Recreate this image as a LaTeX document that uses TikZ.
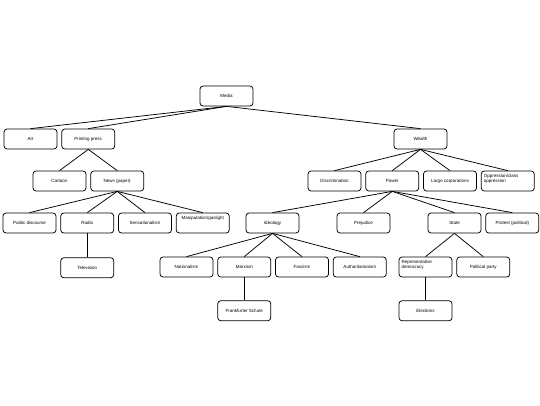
\documentclass[tikz,border=0pt]{standalone}
\usepackage{fontspec}
\setmainfont{Liberation Sans}
\usetikzlibrary{positioning}
\tikzset{x=1pt, y=-1pt, node distance=4pt,
concept/.style={draw, line width=0.75pt, rounded corners=3pt, fill=white,
  minimum width=53pt, minimum height=20pt, inner sep=0pt,
  font=\fontsize{4.5}{5.2}\selectfont},
link/.style={line width=0.75pt},
}
\newcommand{\toptext}[1]{\parbox[c][13pt][t]{48pt}{#1}}

\begin{document}
\begin{tikzpicture}
\useasboundingbox (0,0) rectangle (540,405);
    \node[concept] (media) at (226.5,96) {Media};
    \node[concept] (art) at (30.5,139) {Art};
    \node[concept, right=of art] (printing) {Printing press};
    \node[concept] (wealth) at (420.5,139) {Wealth};
    \node[concept] (cartoon) at (59.5,181) {Cartoon};
    \node[concept, right=of cartoon] (news) {News (paper)};
    \node[concept] (discrimination) at (334.5,181) {Discrimination};
    \node[concept, right=of discrimination] (power) {Power};
    \node[concept, right=of power] (corporations) {Large corporations};
    \node[concept, right=of corporations] (oppression) {\toptext{\raggedright Oppression/class\\oppression}};
    \node[concept] (public) at (29.5,223) {Public discourse};
    \node[concept, right=of public] (radio) {Radio};
    \node[concept, right=of radio] (sensationalism) {Sensationalism};
    \node[concept, right=of sensationalism] (manipulation) {\toptext{\centering Manipulation/gaslight}};
    \node[concept] (ideology) at (272.5,223) {Ideology};
    \node[concept] (prejudice) at (363.5,223) {Prejudice};
    \node[concept] (state) at (454.5,223) {State};
    \node[concept, right=of state] (protest) {Protest (political)};
    \node[concept, below=24pt of radio] (television) {Television};
    \node[concept] (nationalism) at (186.5,267) {Nationalism};
    \node[concept, right=of nationalism] (marxism) {Marxism};
    \node[concept, right=of marxism] (fascism) {Fascism};
    \node[concept, right=of fascism] (authoritarianism) {Authoritarianism};
    \node[concept] (democracy) at (425.5,267) {\toptext{\raggedright Representative\\democracy}};
    \node[concept, right=of democracy] (party) {Political party};
    \node[concept, below=23pt of marxism] (frankfurter) {Frankfurter Schule};
    \node[concept, below=23pt of democracy] (elections) {Elections};
    % tree links
    \foreach \p/\c in {media/art, media/printing, media/wealth,
        printing/cartoon, printing/news,
        news/public, news/radio, news/sensationalism, news/manipulation,
        radio/television,
        wealth/discrimination, wealth/power, wealth/corporations, wealth/oppression,
        power/ideology, power/prejudice, power/state, power/protest,
        ideology/nationalism, ideology/marxism, ideology/fascism, ideology/authoritarianism,
        marxism/frankfurter,
        state/democracy, state/party, democracy/elections}
        \draw[link] (\p.south) -- (\c.north);
\end{tikzpicture}
\end{document}
